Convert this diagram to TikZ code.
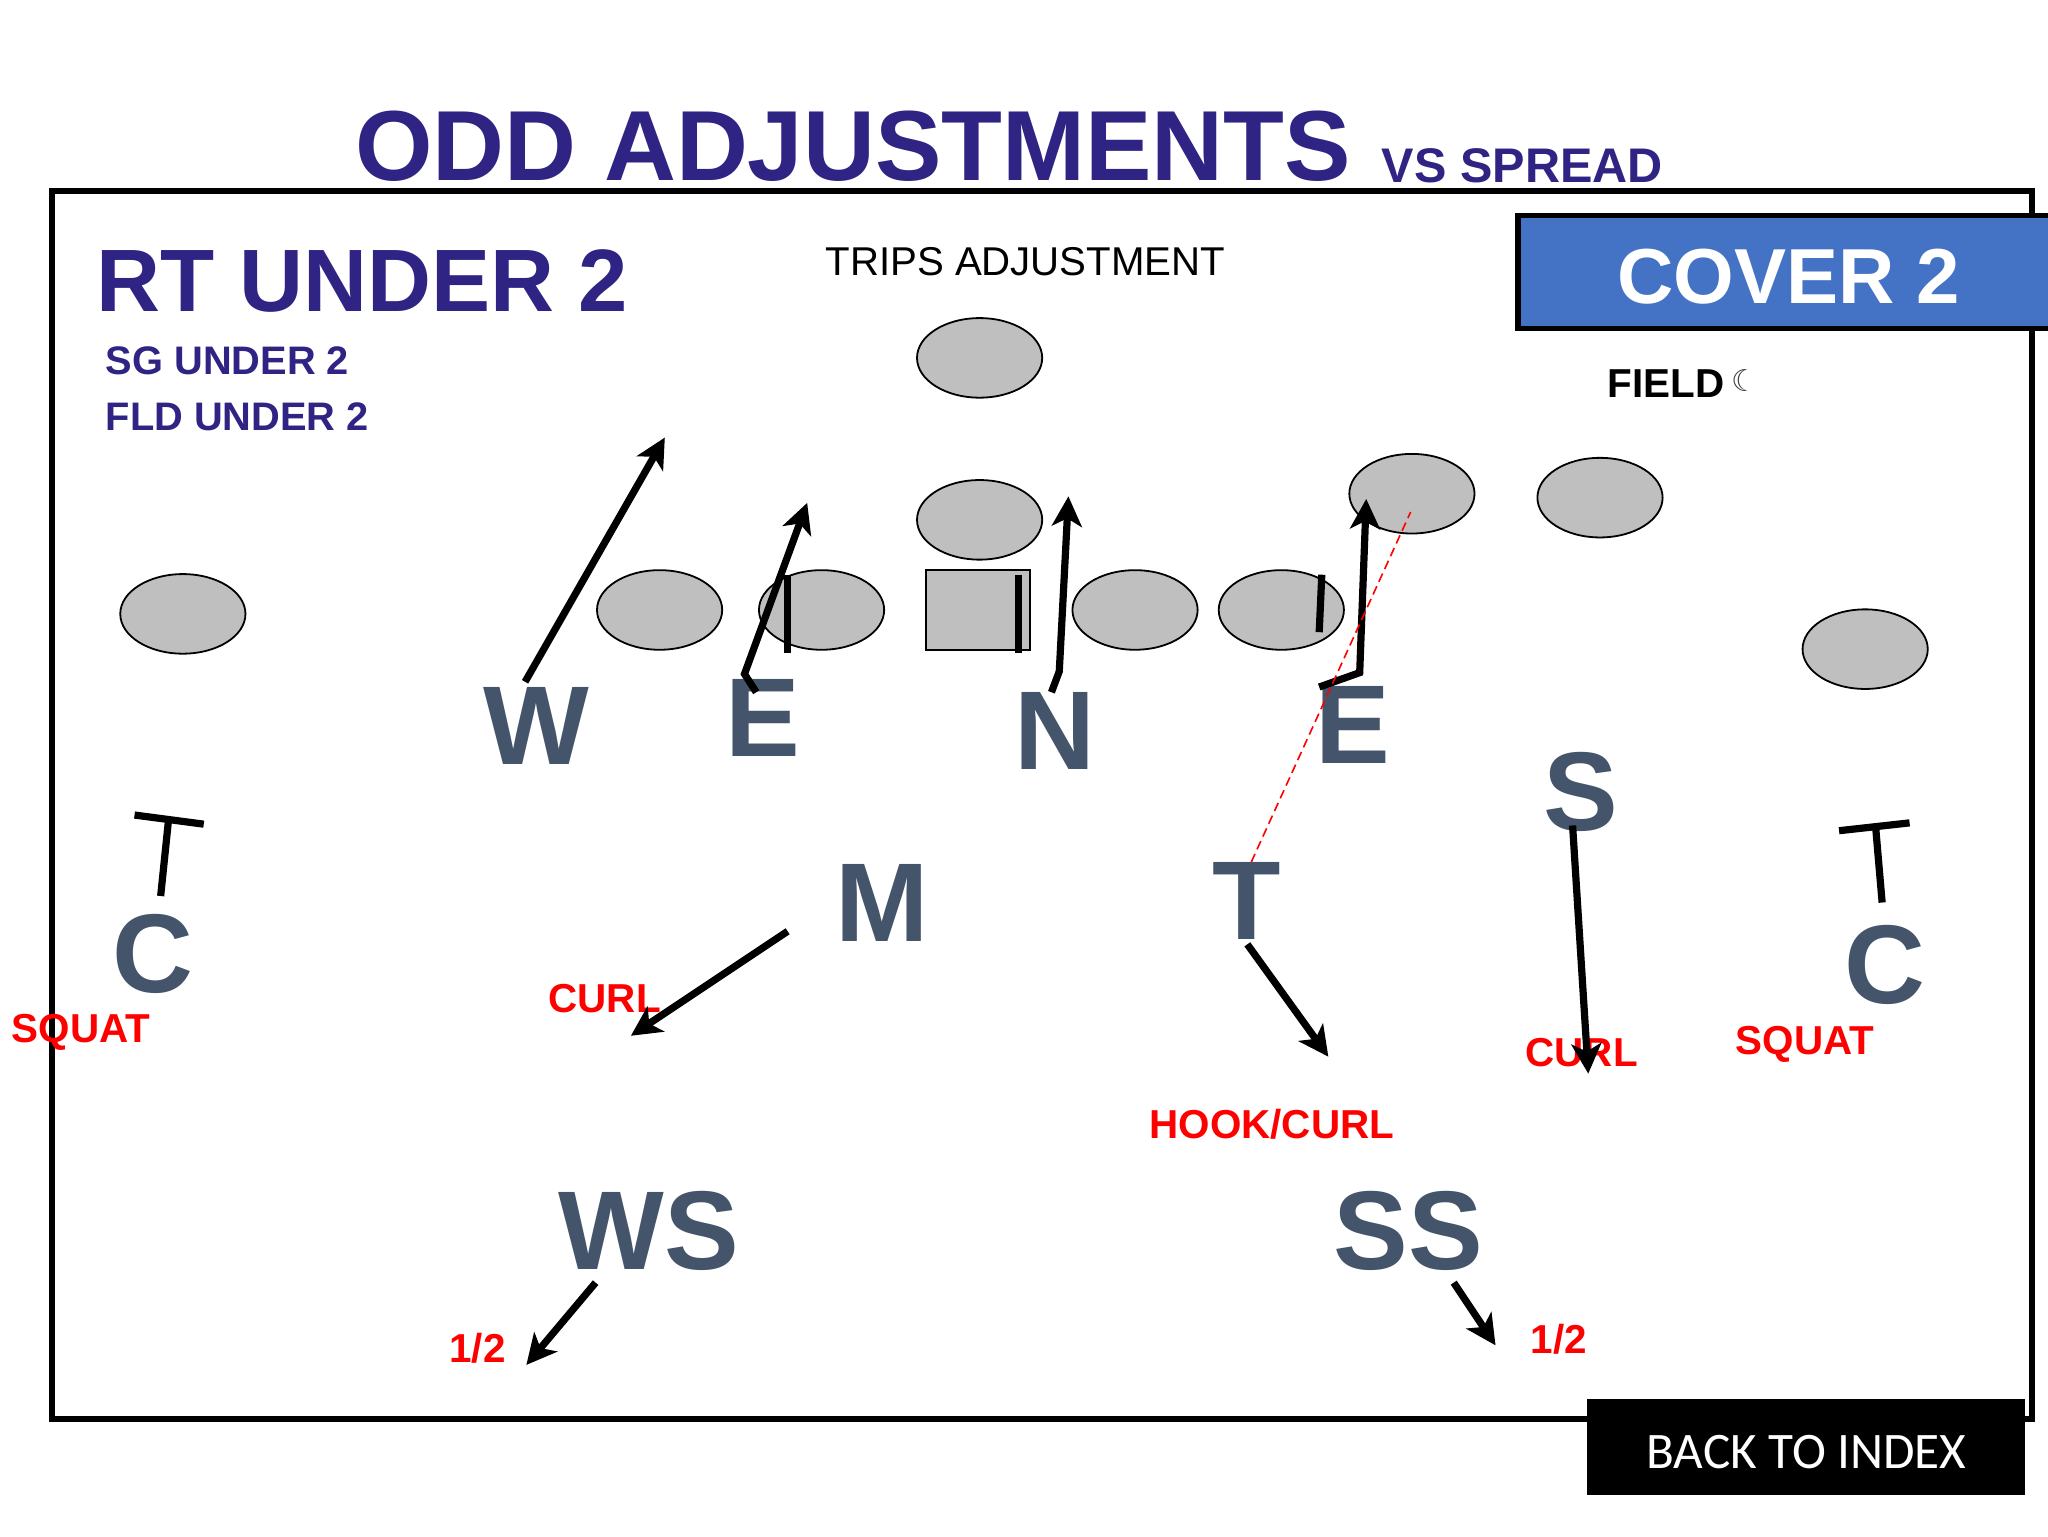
\documentclass[tikz,border=0pt]{standalone}
\usepackage{fontspec}
\setmainfont{Liberation Sans}
\newfontfamily\calfont{Carlito}
\newfontfamily\symfont{DejaVu Sans}
\usetikzlibrary{arrows.meta,shapes.geometric}
\definecolor{navy}{HTML}{2F2483}
\definecolor{slatec}{HTML}{44546A}
\definecolor{coverblue}{HTML}{4472C4}
\definecolor{ovalgray}{HTML}{BFBFBF}
\definecolor{redc}{HTML}{FF0000}
\newcommand{\fsz}[1]{\fontsize{#1}{#1}\selectfont}
\tikzset{
  lab/.style={inner sep=0pt,outer sep=0pt,anchor=base west},
  ctr/.style={inner sep=0pt,outer sep=0pt,anchor=base},
  title/.style={lab,text=navy,font=\bfseries},
  player/.style={ctr,text=slatec,font=\fsz{56}\bfseries},
  zone/.style={lab,text=redc,font=\fsz{20.2}\bfseries},
  oval/.style={draw=black,line width=0.9pt,fill=ovalgray,ellipse,minimum width=62.6pt,minimum height=39.8pt,inner sep=0pt},
  mv/.style={draw=black,line width=3.6pt,-{Stealth[length=15pt,width=15pt,inset=4pt]},line join=miter},
  bar/.style={draw=black,line width=3.6pt},
}
\begin{document}
\begin{tikzpicture}[x=0.65306pt,y=-0.65306pt]
\useasboundingbox (0,0) rectangle (1568,1176);
\clip (0,0) rectangle (1568,1176);
\fill[white] (0,0) rectangle (1568,1176);
% frame
\node[draw=black,line width=2.9pt,inner sep=0pt,outer sep=0pt,minimum width=990pt,minimum height=614pt,anchor=north west] (frame) at (40,146) {};
% titles
\node[title,font=\fsz{49.8}\bfseries] (t1) at (272,138) {ODD ADJUSTMENTS};
\node[title,font=\fsz{24.3}\bfseries] (t2) at (1058,140) {VS SPREAD};
\node[title,font=\fsz{44.3}\bfseries] (t3) at (74,238.5) {RT UNDER 2};
\node[title,font=\fsz{19.9}\bfseries] (t4) at (81,287) {SG UNDER 2};
\node[title,font=\fsz{19.9}\bfseries] (t5) at (81,329.5) {FLD UNDER 2};
\node[lab,font=\fsz{20.1}] (t6) at (632,211) {TRIPS ADJUSTMENT};
% cover box
\node[draw=black,line width=2.9pt,fill=coverblue,inner sep=0pt,outer sep=0pt,minimum width=290pt,minimum height=56.5pt,anchor=north west] (cover) at (1162,165) {};
\node[ctr,text=white,font=\fsz{39}\bfseries] (covertext) at (1369.5,232) {COVER 2};
\node[lab,font=\fsz{20.2}\bfseries] (field) at (1231,304.5) {FIELD};
\node[ctr,text=black!75,font=\symfont\fsz{15}] (moon) at (1336,300) {☾};
% offense
\node[oval] (o1) at (140,470) {};
\node[oval] (o2) at (505,467) {};
\node[oval] (o3) at (629,467) {};
\node[draw=black,line width=0.9pt,fill=ovalgray,inner sep=0pt,minimum width=52pt,minimum height=40pt] (ctrbox) at (749,467) {};
\node[oval] (o4) at (869,467) {};
\node[oval] (o5) at (981,467) {};
\node[oval] (o6) at (750,274) {};
\node[oval] (o7) at (750,398) {};
\node[oval] (o8) at (1081,378) {};
\node[oval] (o9) at (1225,381) {};
\node[oval] (o10) at (1428,497) {};
% defenders
\node[player] (W) at (411,585) {W};
\node[player] (E1) at (584,579.5) {E};
\node[player] (N) at (808,589) {N};
\node[player] (E2) at (1036,584.5) {E};
\node[player] (S) at (1210,636) {S};
\node[player] (M) at (675.5,721) {M};
\node[player] (T) at (954.5,719) {T};
\node[player] (C1) at (117,760) {C};
\node[player] (C2) at (1443,768) {C};
\node[player] (WS) at (497,972) {WS};
\node[player] (SS) at (1078,972) {SS};
% zone labels
\node[zone] (z1) at (9,798.5) {SQUAT};
\node[zone] (z2) at (420,775.5) {CURL};
\node[zone] (z3) at (1168,816.5) {CURL};
\node[zone] (z4) at (1329,807.5) {SQUAT};
\node[zone] (z5) at (880,871.5) {HOOK/CURL};
\node[zone] (z6) at (344,1043.5) {1/2};
\node[zone] (z7) at (1172,1036.5) {1/2};
% coordinates for moves
\coordinate (b1a) at (603,440); \coordinate (b1b) at (603,500);
\coordinate (b2a) at (780,440); \coordinate (b2b) at (780,500);
\coordinate (b3a) at (1012,440); \coordinate (b3b) at (1010,484);
\coordinate (wa) at (402,522); \coordinate (wb) at (509,335);
\coordinate (ea) at (579,530); \coordinate (eb) at (570,516); \coordinate (ec) at (618,385);
\coordinate (na) at (805,530); \coordinate (nb) at (811,514); \coordinate (nc) at (818,380);
\coordinate (fa) at (1010,526); \coordinate (fb) at (1041,515); \coordinate (fc) at (1046,382);
\coordinate (ma) at (603,713); \coordinate (mb) at (483,793);
\coordinate (ta) at (955,723); \coordinate (tb) at (1017,809);
\coordinate (sa) at (1204,632); \coordinate (sb) at (1216,822);
\coordinate (wsa) at (456,982); \coordinate (wsb) at (403,1045);
\coordinate (ssa) at (1113,982); \coordinate (ssb) at (1145,1030);
\coordinate (c1a) at (103,624); \coordinate (c1b) at (156,631); \coordinate (c1c) at (129,628); \coordinate (c1d) at (123,686);
\coordinate (c2a) at (1408,636); \coordinate (c2b) at (1462,630); \coordinate (c2c) at (1436,633); \coordinate (c2d) at (1441,691);
\coordinate (da) at (958,660); \coordinate (db) at (1080,392);
% bars
\draw[bar] (b1a) -- (b1b);
\draw[bar] (b2a) -- (b2b);
\draw[bar] (b3a) -- (b3b);
% moves
\draw[mv] (wa) -- (wb);
\draw[mv] (ea) -- (eb) -- (ec);
\draw[mv] (na) -- (nb) -- (nc);
\draw[mv] (fa) -- (fb) -- (fc);
\draw[mv] (ma) -- (mb);
\draw[mv] (ta) -- (tb);
\draw[mv] (sa) -- (sb);
\draw[mv] (wsa) -- (wsb);
\draw[mv] (ssa) -- (ssb);
\draw[bar] (c1a) -- (c1b);
\draw[bar] (c1c) -- (c1d);
\draw[bar] (c2a) -- (c2b);
\draw[bar] (c2c) -- (c2d);
\draw[redc,line width=0.8pt,dash pattern=on 4.5pt off 2.5pt] (da) -- (db);
% back to index
\node[fill=black,inner sep=0pt,outer sep=0pt,minimum width=218.8pt,minimum height=48.3pt,anchor=north west] (back) at (1215,1071) {};
\node[lab,text=white,font=\calfont\fsz{25.6}] (backtext) at (1260.5,1124) {BACK TO INDEX};
\end{tikzpicture}
\end{document}
